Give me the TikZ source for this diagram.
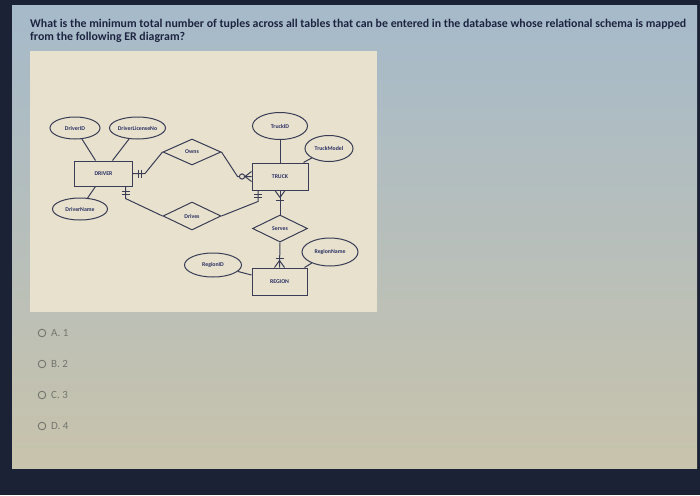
\documentclass[tikz,border=0pt]{standalone}
\usepackage{fontspec}
\setmainfont{Carlito}
\usetikzlibrary{shapes.geometric,calc}
\definecolor{frame}{HTML}{1C2236}
\definecolor{pagetop}{HTML}{A6BACA}
\definecolor{pagemid}{HTML}{B8C1BD}
\definecolor{pagebot}{HTML}{C8C3AC}
\definecolor{panel}{HTML}{E7E1CE}
\definecolor{ink}{HTML}{3A3D55}
\definecolor{lbl}{HTML}{2B3163}
\definecolor{qtext}{HTML}{1D2440}
\definecolor{opt}{HTML}{73766E}
\begin{document}
\begin{tikzpicture}[x=1pt,y=-1pt,
  ln/.style={draw=ink,line width=1pt},
  lab/.style={font=\fontsize{5.8}{6.5}\selectfont\bfseries,text=lbl},
  attr/.style={ellipse,ln,lab,inner sep=0pt},
  ent/.style={rectangle,ln,lab,inner sep=0pt},
  rel/.style={diamond,ln,lab,inner sep=0pt},
  radio/.style={draw=opt,line width=0.9pt},
  qstyle/.style={anchor=base west,inner sep=0pt,text=qtext,font=\fontsize{11.85}{13}\selectfont\bfseries},
  opttext/.style={anchor=west,text=opt,font=\fontsize{11}{12}\selectfont,inner sep=0pt}]
\useasboundingbox (0,0) rectangle (700,495);
\fill[frame] (0,0) rectangle (700,495);
\shade[top color=pagetop,middle color=pagemid,bottom color=pagebot] (12,6) rectangle (697,468);
\fill[panel] (30,51) rectangle (377,312);

% question
\node[qstyle] (q1) at (30,28)
  {What is the minimum total number of tuples across all tables that can be entered in the database whose relational schema is mapped};
\node[qstyle] (q2) at (30,41)
  {from the following ER diagram?};

% entities
\node[ent,minimum width=58,minimum height=25] (drv) at (103.5,173.5) {DRIVER};
\node[ent,minimum width=56,minimum height=27] (trk) at (280,176.5) {TRUCK};
\node[ent,minimum width=55,minimum height=27] (reg) at (279.5,281.5) {REGION};

% relationships
\node[rel,minimum width=58,minimum height=26] (owns) at (192,152) {Owns};
\node[rel,minimum width=58,minimum height=28] (drives) at (192,216) {Drives};
\node[rel,minimum width=55,minimum height=27] (serves) at (280,228.5) {Serves};

% attributes
\node[attr,minimum width=50,minimum height=22] (did) at (75,128) {DriverID};
\node[attr,minimum width=56,minimum height=22] (dlic) at (137.5,128) {DriverLicenseNo};
\node[attr,minimum width=55,minimum height=22] (dname) at (80,209) {DriverName};
\node[attr,minimum width=55,minimum height=27] (tid) at (280,126) {TruckID};
\node[attr,minimum width=48,minimum height=26] (tmod) at (329,148.5) {TruckModel};
\node[attr,minimum width=57,minimum height=24] (rid) at (213,265) {RegionID};
\node[attr,minimum width=56,minimum height=28] (rname) at (330,252) {RegionName};

% attribute links
\draw[ln] (did) -- ($(drv.north)+(-8,0)$);
\draw[ln] (dlic) -- ($(drv.north)+(9,0)$);
\draw[ln] (dname) -- ($(drv.south)+(-8,0)$);
\draw[ln] (tid) -- (trk.north);
\draw[ln] (tmod) -- ($(trk.north east)+(-5,0)$);
\draw[ln] (rid) -- ($(reg.west)+(0,-6.5)$);
\draw[ln] (rname) -- ($(reg.north east)+(-3,0)$);

% DRIVER -- Owns (one and only one)
\coordinate (dO) at ($(drv.east)+(12,0)$);
\draw[ln] (drv.east) -- (dO) -- (owns.west);
\draw[ln] ($(drv.east)+(5,-4)$) -- ($(drv.east)+(5,4)$);
\draw[ln] ($(drv.east)+(8,-4)$) -- ($(drv.east)+(8,4)$);

% DRIVER -- Drives (one and only one)
\coordinate (dD1) at ($(drv.south)+(22,0)$);
\coordinate (dD2) at ($(dD1)+(0,12)$);
\draw[ln] (dD1) -- (dD2) -- (drives.west);
\draw[ln] ($(dD1)+(-4,5)$) -- ($(dD1)+(4,5)$);
\draw[ln] ($(dD1)+(-4,8)$) -- ($(dD1)+(4,8)$);

% Owns -- TRUCK (zero or many)
\coordinate (oT) at ($(trk.west)+(-14,0)$);
\coordinate (oTc) at ($(trk.west)+(-9.5,0)$);
\coordinate (oTf) at ($(trk.west)+(-6.5,0)$);
\draw[ln] (owns.east) -- (oT) -- (trk.west);
\draw[ln] (oTf) -- ($(trk.west)+(0,-5)$);
\draw[ln] (oTf) -- ($(trk.west)+(0,5)$);
\draw[ln,fill=panel] (oTc) circle (2.6);

% Drives -- TRUCK (one and only one)
\coordinate (dT2) at ($(trk.south)+(-22,0)$);
\coordinate (dT) at ($(dT2)+(0,11)$);
\draw[ln] (drives.east) -- (dT) -- (dT2);
\draw[ln] ($(dT2)+(-4,4)$) -- ($(dT2)+(4,4)$);
\draw[ln] ($(dT2)+(-4,7)$) -- ($(dT2)+(4,7)$);

% TRUCK -- Serves (one or many at truck)
\coordinate (tS) at ($(trk.south)+(0,7)$);
\draw[ln] (trk.south) -- (serves.north);
\draw[ln] (tS) -- ($(trk.south)+(-5,0)$);
\draw[ln] (tS) -- ($(trk.south)+(5,0)$);
\draw[ln] ($(trk.south)+(-4,9.5)$) -- ($(trk.south)+(4,9.5)$);

% Serves -- REGION (one or many at region)
\coordinate (sR) at ($(reg.north)+(0,-7)$);
\draw[ln] (serves.south) -- (reg.north);
\draw[ln] (sR) -- ($(reg.north)+(-5,0)$);
\draw[ln] (sR) -- ($(reg.north)+(5,0)$);
\draw[ln] ($(reg.north)+(-4,-9.5)$) -- ($(reg.north)+(4,-9.5)$);

% options
\draw[radio] (42,333) circle (3.8);
\node[opttext] (oa) at (51,333) {A. 1};
\draw[radio] (42,364) circle (3.8);
\node[opttext] (ob) at (51,364) {B. 2};
\draw[radio] (42,395) circle (3.8);
\node[opttext] (oc) at (51,395) {C. 3};
\draw[radio] (42,426) circle (3.8);
\node[opttext] (od) at (51,426) {D. 4};
\end{tikzpicture}
\end{document}
